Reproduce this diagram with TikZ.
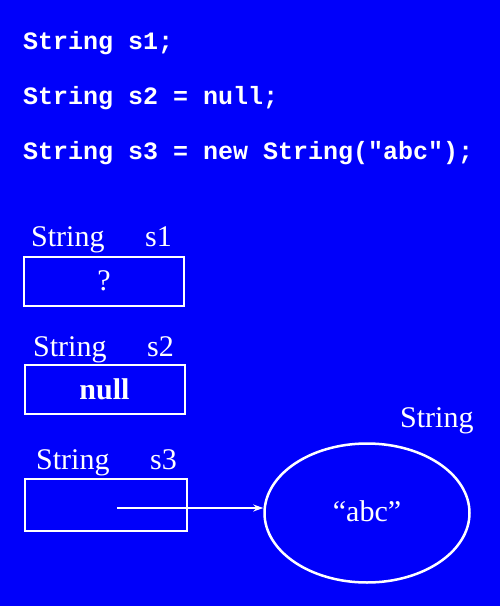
\documentclass[tikz,border=0pt]{standalone}
\usepackage{fontspec}
\setmainfont{Liberation Serif}
\setmonofont{Liberation Mono}
\usetikzlibrary{shapes.geometric,arrows.meta}
\definecolor{bg}{RGB}{0,0,250}
\tikzset{
  code/.style={anchor=base west,inner sep=0pt,text=white,font=\fontsize{25}{25}\selectfont\ttfamily\bfseries},
  lbl/.style={anchor=base west,inner sep=0pt,text=white,font=\fontsize{30}{30}\selectfont},
  varbox/.style={draw=white,line width=2pt,minimum width=160pt,minimum height=49pt,inner sep=0pt,text=white,font=\fontsize{30}{30}\selectfont},
  obj/.style={ellipse,draw=white,line width=2.5pt,minimum width=205pt,minimum height=139pt,inner sep=0pt,text=white,font=\fontsize{30}{30}\selectfont},
  ptr/.style={draw=white,line width=1.5pt,-{Stealth[length=10pt,width=7pt]}}
}
\begin{document}
\begin{tikzpicture}[x=1pt,y=-1pt]
\fill[bg] (0,0) rectangle (500,606);
\useasboundingbox (0,0) rectangle (500,606);
\node[code] (c1) at (23,49) {String s1;};
\node[code] (c2) at (23,104) {String s2 = null;};
\node[code] (c3) at (23,159) {String s3 = new String("abc");};
\node[lbl] (t1) at (31,246) {String};
\node[lbl] (n1) at (145,246) {s1};
\node[varbox] (b1) at (104,281.5) {\raisebox{1pt}{?}};
\node[lbl] (t2) at (33,356) {String};
\node[lbl] (n2) at (147,356) {s2};
\node[varbox] (b2) at (104.5,389.5) {\bfseries null};
\node[lbl] (t3) at (36,469) {String};
\node[lbl] (n3) at (150,469) {s3};
\node[varbox,minimum width=162pt,minimum height=52pt] (b3) at (105.5,504.5) {};
\node[lbl] (t4) at (400,427) {String};
\node[obj] (abc) at (367,513) {\raisebox{4pt}{“abc”}};
\coordinate (p) at (117,508);
\draw[ptr] (p) -- (abc.west |- p);
\end{tikzpicture}
\end{document}
